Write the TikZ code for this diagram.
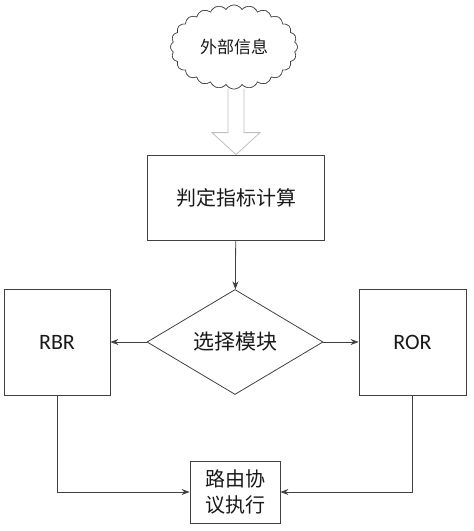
\documentclass[tikz,border=0pt]{standalone}
\usepackage{fontspec}
\setmainfont{Carlito}
\newfontfamily\cjk{Noto Sans CJK SC}
\usepackage{tikz}
\usetikzlibrary{shapes.geometric, shapes.symbols, arrows.meta, positioning, calc}

\begin{document}
\begin{tikzpicture}[
    x=1pt, y=-1pt,
    box/.style={draw=black!75, line width=0.8pt, inner sep=0pt, font=#1, text=black!90, align=center},
    box/.default=\cjk\fontsize{20}{26}\selectfont,
    choice/.style={draw=black!75, line width=0.8pt, diamond, aspect=1.68, inner sep=0pt, minimum width=176pt, minimum height=105pt, font=\cjk\fontsize{21}{26}\selectfont, text=black!90},
    info/.style={draw=black!75, line width=0.6pt, cloud, cloud puffs=24, cloud puff arc=120, aspect=1.5, minimum width=127pt, minimum height=84pt, inner sep=0pt, fill=white, font=\cjk\fontsize{17}{20}\selectfont, text=black!90},
    arrow/.style={-{Stealth[length=8pt, width=6pt]}, line width=0.8pt, draw=black!75},
    hollow/.style={draw=black!25, line width=0.8pt, line join=miter},
]
\useasboundingbox (0,0) rectangle (474,531);
% nodes
\node[info] (extinfo) at (234,47) {外部信息};
\node[box, minimum width=177pt, minimum height=85pt] (calc) at (236,197.5) {判定指标计算};
\node[choice] (select) at (235,342) {选择模块};
\node[box=\fontsize{22}{24}\selectfont, minimum width=106pt, minimum height=106pt] (rbr) at (57,342) {RBR};
\node[box=\fontsize{22}{24}\selectfont, minimum width=107pt, minimum height=106pt] (ror) at (412.5,342) {ROR};
\node[box, minimum width=90pt, minimum height=62pt] (route) at (235,492) {路由协\\议执行};
% hollow arrow from cloud to box
\draw[hollow] ($(calc.north)+(-8,-66)$) -- ($(calc.north)+(-8,-22)$) -- ($(calc.north)+(-24,-22)$)
    -- (calc.north) -- ($(calc.north)+(24,-22)$) -- ($(calc.north)+(8,-22)$) -- ($(calc.north)+(8,-66)$);
\node[info] at (extinfo) {外部信息};
% connectors
\draw[arrow] (calc) -- (select);
\draw[arrow] (select) -- (rbr);
\draw[arrow] (select) -- (ror);
\draw[arrow] (rbr.south) |- (route.west);
\draw[arrow] (ror.south) |- (route.east);
\end{tikzpicture}
\end{document}
